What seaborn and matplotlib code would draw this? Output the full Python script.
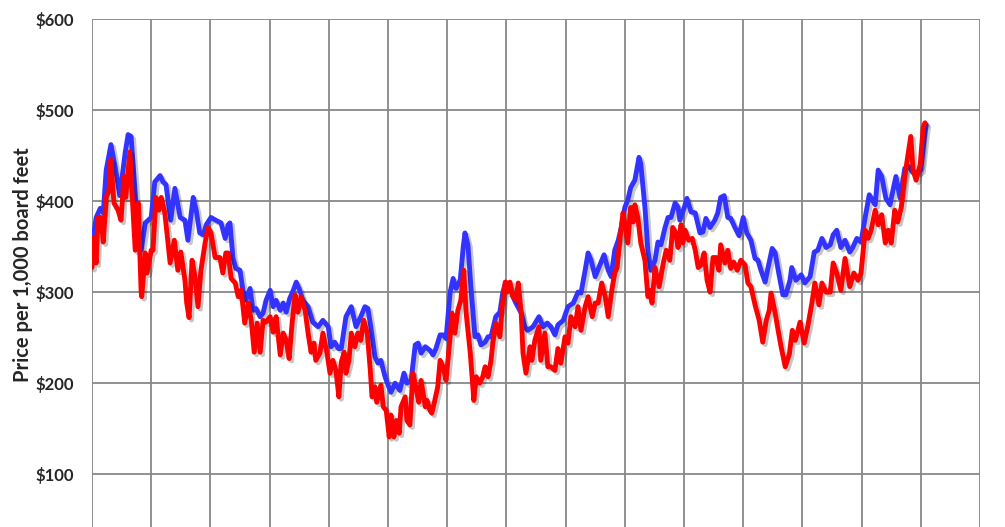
import matplotlib
matplotlib.use("Agg")
import numpy as np
import pandas as pd
import seaborn as sns
import matplotlib.pyplot as plt
import matplotlib.patheffects as pe
from matplotlib.ticker import FuncFormatter, MultipleLocator

# ---------------- data (time in years from start, price in $ per 1,000 board feet)
blue_t = [0.02, 0.07, 0.14, 0.19, 0.24, 0.32, 0.39, 0.47, 0.56, 0.61, 0.66, 0.73, 0.78, 0.83, 0.90, 0.95,
          1.00, 1.06, 1.15, 1.20, 1.25, 1.33, 1.40, 1.49, 1.57, 1.62, 1.71, 1.76, 1.82, 1.88, 1.93,
          2.01, 2.09, 2.18, 2.25, 2.30, 2.33, 2.38, 2.43, 2.50, 2.55, 2.60, 2.67, 2.72, 2.77, 2.84, 2.89, 2.94,
          3.01, 3.06, 3.11, 3.18, 3.23, 3.28, 3.34, 3.40, 3.45, 3.51, 3.56, 3.65, 3.73, 3.82, 3.90, 3.99,
          4.04, 4.10, 4.16, 4.21, 4.29, 4.38, 4.46, 4.54, 4.61, 4.66, 4.71, 4.78, 4.83, 4.88, 4.95,
          5.00, 5.05, 5.12, 5.20, 5.27, 5.32, 5.39, 5.46, 5.51, 5.56, 5.63, 5.71, 5.76, 5.81, 5.88, 5.93, 5.98,
          6.05, 6.10, 6.15, 6.22, 6.27, 6.30, 6.35, 6.40, 6.47, 6.52, 6.57, 6.64, 6.69, 6.74, 6.82, 6.89, 6.94, 6.99,
          7.06, 7.11, 7.16, 7.25, 7.31, 7.36, 7.45, 7.55, 7.62, 7.69, 7.75, 7.82, 7.87, 7.96,
          8.04, 8.13, 8.21, 8.26, 8.33, 8.38, 8.43, 8.50, 8.58, 8.65, 8.72, 8.77, 8.83, 8.89, 8.94,
          9.00, 9.05, 9.10, 9.17, 9.24, 9.27, 9.34, 9.39, 9.44, 9.51, 9.56, 9.61, 9.68, 9.73, 9.78, 9.85, 9.90, 9.93,
          10.00, 10.05, 10.12, 10.19, 10.27, 10.32, 10.37, 10.44, 10.52, 10.57, 10.62, 10.68, 10.74, 10.79, 10.86, 10.93,
          11.00, 11.06, 11.13, 11.20, 11.25, 11.30, 11.37, 11.42, 11.49, 11.54, 11.60, 11.67, 11.72, 11.79, 11.82, 11.89, 11.98,
          12.04, 12.13, 12.20, 12.26, 12.33, 12.40, 12.47, 12.52, 12.58, 12.65, 12.72, 12.80, 12.85, 12.92, 12.99,
          13.06, 13.13, 13.18, 13.23, 13.28, 13.34, 13.41, 13.48, 13.53, 13.58, 13.65, 13.73, 13.80, 13.87, 13.95,
          14.00, 14.07, 14.09]
blue_v = [360, 382, 392, 387, 434, 462, 438, 406, 453, 473, 471, 409, 371, 346, 376, 379,
          382, 421, 428, 421, 418, 379, 414, 382, 379, 357, 404, 390, 365, 363, 374,
          382, 379, 376, 359, 374, 376, 338, 326, 324, 302, 291, 304, 280, 282, 273, 277, 291,
          302, 284, 291, 280, 288, 278, 293, 302, 311, 302, 291, 284, 267, 262, 269, 262,
          240, 245, 238, 238, 273, 284, 262, 273, 284, 282, 262, 229, 222, 225, 207,
          198, 190, 200, 192, 211, 200, 203, 242, 244, 233, 240, 236, 231, 238, 253, 253, 249,
          300, 315, 304, 313, 349, 365, 352, 306, 251, 253, 242, 245, 251, 251, 273, 278, 300, 311,
          306, 295, 288, 277, 262, 258, 262, 273, 262, 266, 262, 253, 264, 269,
          284, 288, 300, 299, 324, 343, 335, 317, 330, 341, 324, 317, 346, 357, 371,
          393, 401, 415, 423, 448, 441, 393, 346, 324, 335, 355, 352, 371, 382, 382, 398, 393, 379,
          392, 403, 388, 387, 365, 366, 381, 371, 379, 387, 404, 406, 382, 381, 371, 362,
          382, 365, 357, 337, 335, 324, 311, 327, 348, 343, 321, 297, 297, 313, 327, 313, 319,
          310, 317, 344, 346, 359, 349, 352, 363, 368, 349, 357, 344, 349, 359, 355,
          382, 407, 401, 396, 434, 427, 403, 396, 412, 427, 403, 436, 438, 431, 432,
          434, 475, 484]

red_t = [0.00, 0.03, 0.07, 0.10, 0.15, 0.19, 0.24, 0.29, 0.32, 0.37, 0.44, 0.49, 0.54, 0.57, 0.64, 0.68,
         0.73, 0.78, 0.83, 0.84, 0.90, 0.93, 1.00, 1.03, 1.08, 1.13, 1.17, 1.23, 1.32, 1.39, 1.45, 1.50,
         1.57, 1.60, 1.64, 1.69, 1.74, 1.79, 1.84, 1.91, 1.96, 2.01, 2.08, 2.16, 2.21, 2.26, 2.30, 2.35,
         2.42, 2.47, 2.52, 2.58, 2.64, 2.69, 2.74, 2.79, 2.84, 2.89, 2.94, 3.01, 3.06, 3.11, 3.18, 3.23,
         3.28, 3.33, 3.38, 3.43, 3.48, 3.53, 3.60, 3.65, 3.70, 3.75, 3.78, 3.85, 3.90, 3.97,
         4.02, 4.07, 4.12, 4.17, 4.21, 4.26, 4.29, 4.34, 4.38, 4.44, 4.49, 4.54, 4.59, 4.65, 4.70, 4.73,
         4.78, 4.81, 4.88, 4.92, 4.97, 5.02, 5.05, 5.10, 5.14, 5.19, 5.22, 5.29, 5.32, 5.37, 5.42, 5.47,
         5.52, 5.56, 5.63, 5.66, 5.71, 5.74, 5.79, 5.84, 5.88, 5.93, 5.98, 6.05, 6.08, 6.13, 6.18, 6.23,
         6.28, 6.32, 6.39, 6.42, 6.45, 6.49, 6.55, 6.60, 6.64, 6.69, 6.74, 6.77, 6.82, 6.89, 6.93, 6.98,
         7.01, 7.06, 7.11, 7.16, 7.20, 7.25, 7.28, 7.33, 7.40, 7.43, 7.48, 7.55, 7.58, 7.65, 7.70, 7.75,
         7.82, 7.87, 7.92, 7.99, 8.04, 8.09, 8.16, 8.21, 8.26, 8.33, 8.38, 8.45, 8.50, 8.55, 8.61, 8.67,
         8.72, 8.78, 8.83, 8.87, 8.92, 8.97, 9.00, 9.05, 9.10, 9.14, 9.17, 9.22, 9.27, 9.34, 9.39, 9.43,
         9.46, 9.51, 9.58, 9.65, 9.70, 9.76, 9.81, 9.86, 9.90, 9.95, 9.98, 10.02, 10.08, 10.14, 10.19, 10.24,
         10.29, 10.34, 10.39, 10.44, 10.49, 10.54, 10.59, 10.62, 10.69, 10.74, 10.79, 10.84, 10.90, 10.96,
         11.03, 11.08, 11.13, 11.20, 11.27, 11.33, 11.39, 11.44, 11.47, 11.54, 11.59, 11.64, 11.71, 11.78,
         11.83, 11.88, 11.96, 12.03, 12.09, 12.16, 12.21, 12.28, 12.33, 12.40, 12.47, 12.52, 12.58, 12.65,
         12.72, 12.80, 12.87, 12.94, 12.99, 13.06, 13.11, 13.16, 13.23, 13.28, 13.34, 13.40, 13.45, 13.50,
         13.56, 13.61, 13.67, 13.73, 13.77, 13.83, 13.87, 13.92, 13.99, 14.04, 14.07]
red_v = [327, 360, 332, 382, 382, 355, 404, 412, 445, 398, 390, 379, 427, 404, 454, 404,
         346, 398, 300, 295, 343, 321, 346, 346, 404, 390, 404, 387, 332, 357, 324, 344,
         313, 288, 272, 335, 317, 284, 324, 354, 371, 365, 338, 338, 321, 343, 343, 315,
         310, 295, 302, 266, 288, 269, 234, 266, 234, 269, 267, 273, 256, 273, 231, 255,
         247, 227, 266, 297, 278, 295, 280, 255, 234, 244, 225, 233, 255, 233,
         211, 225, 214, 185, 223, 234, 211, 225, 255, 240, 255, 247, 269, 255, 215, 185,
         196, 179, 198, 174, 170, 141, 165, 141, 159, 145, 174, 185, 159, 154, 211, 196,
         179, 203, 174, 181, 170, 167, 181, 196, 225, 218, 203, 251, 277, 255, 280, 291,
         324, 277, 233, 207, 181, 207, 200, 207, 218, 207, 225, 244, 266, 251, 284, 311,
         300, 311, 295, 291, 310, 277, 233, 211, 240, 225, 247, 262, 225, 255, 218, 218,
         214, 238, 222, 251, 244, 273, 262, 284, 258, 284, 295, 273, 288, 288, 310, 295,
         273, 302, 321, 327, 360, 387, 376, 354, 393, 377, 396, 382, 354, 335, 295, 302,
         288, 327, 306, 332, 346, 335, 371, 365, 349, 374, 354, 368, 357, 359, 346, 327,
         330, 343, 313, 300, 338, 338, 324, 352, 332, 346, 326, 333, 324, 335,
         330, 310, 306, 286, 269, 245, 269, 280, 299, 277, 258, 240, 218, 232,
         258, 247, 267, 244, 262, 288, 310, 286, 310, 300, 300, 332, 321, 302,
         337, 306, 321, 313, 321, 368, 359, 368, 390, 374, 385, 354, 368, 354,
         390, 377, 393, 427, 445, 471, 434, 423, 440, 481, 486]

y_ticks = [100, 200, 300, 400, 500, 600]
y_label = "Price per 1,000 board feet"

# ---------------- style
sns.set_style("white")
plt.rcParams['font.family'] = ['Lato', 'DejaVu Sans']

fig = plt.figure(figsize=(10.05, 5.27), dpi=100)
ax = fig.add_axes([92 / 1005, 0.0, 888 / 1005, 508 / 527])

df_blue = pd.DataFrame({"year": blue_t, "price": blue_v})
df_red = pd.DataFrame({"year": red_t, "price": red_v})

sns.lineplot(data=df_blue, x="year", y="price", ax=ax, color="#3333ff",
             linewidth=3.5, sort=False, estimator=None)
sns.lineplot(data=df_red, x="year", y="price", ax=ax, color="#ff0000",
             linewidth=3.5, sort=False, estimator=None)

for ln in ax.lines:
    ln.set_solid_joinstyle("round")
    ln.set_solid_capstyle("round")
    ln.set_path_effects([pe.SimpleLineShadow(offset=(1.8, -1.8), shadow_color="#000000", alpha=0.22),
                         pe.Normal()])
    ln.set_zorder(3)

ax.set_xlim(0, 15)
ax.set_ylim(42, 600)
ax.xaxis.set_major_locator(MultipleLocator(1))
ax.set_yticks(y_ticks)
ax.yaxis.set_major_formatter(FuncFormatter(lambda v, p: f"${int(v)}"))
ax.tick_params(axis="x", length=0, labelbottom=False)
ax.tick_params(axis="y", length=4.5, width=1.2, color="#888888", pad=8.5, labelsize=12)
for lab in ax.get_yticklabels():
    lab.set_fontweight("bold")

ax.grid(True, color="#888888", linewidth=1.3)
ax.set_axisbelow(True)
for s in ax.spines.values():
    s.set_visible(False)

ax.set_xlabel("")
ax.set_ylabel(y_label, fontsize=14.5, fontweight="bold")
ax.yaxis.set_label_coords(-0.066, 0.516)

fig.savefig("out.png", dpi=100, facecolor="white")
